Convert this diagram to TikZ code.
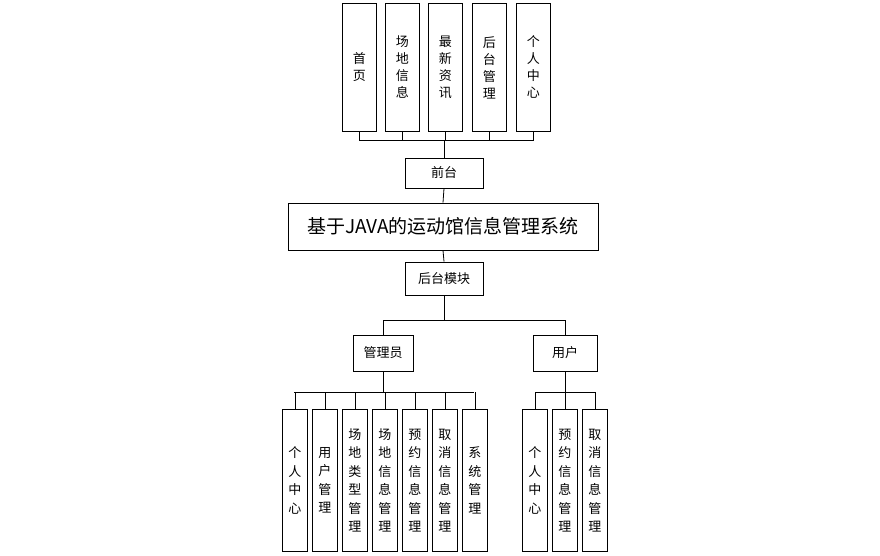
\documentclass[tikz,border=0pt]{standalone}
\usepackage{fontspec}
\setmainfont{Noto Sans CJK SC}
\begin{document}
\begin{tikzpicture}[x=1pt,y=-1pt,
  bx/.style={draw,line width=0.8pt,inner sep=0pt,font=\fontsize{13}{17}\selectfont},
  ln/.style={line width=0.8pt}]
\useasboundingbox (0,0) rectangle (880,555);
\newcommand\vb[5]{\node[bx,minimum width=#3-#2,minimum height=#5-#4,align=center] (#1) at ({(#2+#3)/2},{(#4+#5)/2}) {};}
% top
\foreach \n/\a/\t in {t1/342/首\\页,t2/385/场\\地\\信\\息,t3/428/最\\新\\资\\讯,t4/472/后\\台\\管\\理,t5/516/个\\人\\中\\心}{
  \node[bx,minimum width=34,minimum height=128,align=center,anchor=north west] (\n) at (\a,3) {\t};
  \draw[ln] (\n.south) -- ++(0,9);}
\draw[ln] (359,140) -- (533,140);
\node[bx,minimum width=78,minimum height=30] (qt) at (444,173) {前台};
\draw[ln] (444,140) -- (qt.north);
\node[bx,minimum width=310,minimum height=47,font=\fontsize{19}{23}\selectfont] (main) at (443,226.5) {基于JAVA的运动馆信息管理系统};
\draw[ln] (qt.south) -- (main.north);
\node[bx,minimum width=78,minimum height=33] (ht) at (444,278.5) {后台模块};
\draw[ln] (main.south) -- (ht.north);
\draw[ln] (ht.south) -- (444,320);
\draw[ln] (383,320) -- (565,320);
\node[bx,minimum width=60,minimum height=36] (adm) at (383,353) {管理员};
\node[bx,minimum width=64,minimum height=36] (usr) at (565,353) {用户};
\draw[ln] (383,320) -- (adm.north);
\draw[ln] (565,320) -- (usr.north);
\draw[ln] (adm.south) -- (383,392);
\draw[ln] (usr.south) -- (565,392);
\draw[ln] (294,392) -- (474,392);
\draw[ln] (535,392) -- (595,392);
\foreach \n/\a/\t in {a1/282/个\\人\\中\\心,a2/312/用\\户\\管\\理,a3/342/场\\地\\类\\型\\管\\理,a4/372/场\\地\\信\\息\\管\\理,a5/402/预\\约\\信\\息\\管\\理,a6/432/取\\消\\信\\息\\管\\理,a7/462/系\\统\\管\\理,u1/522/个\\人\\中\\心,u2/552/预\\约\\信\\息\\管\\理,u3/582/取\\消\\信\\息\\管\\理}{
  \node[bx,minimum width=25,minimum height=142,align=center,anchor=north west,font=\fontsize{13}{18.5}\selectfont] (\n) at (\a,409) {\t};
  \draw[ln] (\n.north) -- ++(0,-17);}
\end{tikzpicture}
\end{document}
